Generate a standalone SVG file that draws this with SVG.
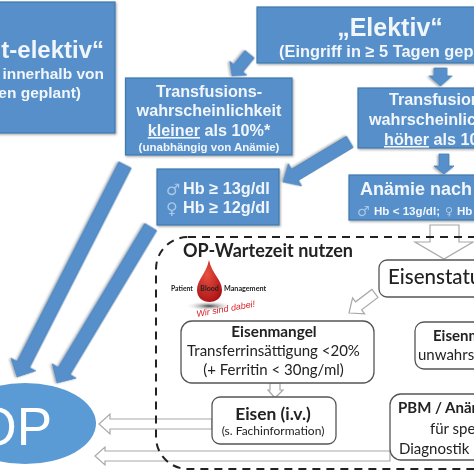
<svg xmlns="http://www.w3.org/2000/svg" width="474" height="474" viewBox="0 0 474 474">
<style>
.b{fill:#568fc9;stroke:#3f78ae;stroke-width:1.2;filter:url(#sh)}
.a{fill:#568fc9;stroke:#4a80b8;stroke-width:.8;filter:url(#sh)}
.w{fill:#fff;stroke:#a8a8a8;stroke-width:1.2}
.n{fill:#fff;stroke:#555;stroke-width:1.3}
.t{font-family:"Liberation Sans",Arial,sans-serif;font-weight:700;fill:#f0f6fb}
.s{font-family:"DejaVu Sans",sans-serif;font-weight:400;fill:#a9c8e6}
.k{font-family:Lato,"Liberation Sans",sans-serif;fill:#222}
.m{text-anchor:middle}
.bd{font-weight:700}
</style>
<defs>
<filter id="sh" x="-20%" y="-20%" width="140%" height="140%"><feDropShadow dx="1" dy="1.2" stdDeviation="1" flood-color="#000" flood-opacity=".35"/></filter>
<radialGradient id="dr" cx=".4" cy=".35" r=".75"><stop offset="0" stop-color="#e8503f"/><stop offset="1" stop-color="#a80f14"/></radialGradient>
<radialGradient id="sd"><stop offset="0" stop-color="#444"/><stop offset="1" stop-color="#fff" stop-opacity="0"/></radialGradient>
</defs>
<g style="filter:blur(.45px)">
<g id="connectors">
<polygon class="a" transform="translate(17,377) rotate(117)" points="0,0 -14,-14 -14,-7 -238,-7 -238,7 -14,7 -14,14"/>
<polygon class="a" transform="translate(57,383) rotate(121)" points="0,0 -14,-14 -14,-7 -182,-7 -182,7 -14,7 -14,14"/>
<polygon class="a" transform="translate(232,76) rotate(129)" points="0,0 -10,-11 -10,-6 -28,-6 -28,6 -10,6 -10,11"/>
<polygon class="a" transform="translate(440.5,86) rotate(90)" points="0,0 -10,-11.5 -10,-6.5 -18,-6.5 -18,6.5 -10,6.5 -10,11.5"/>
<polygon class="a" transform="translate(444,174) rotate(90)" points="0,0 -8,-10 -8,-5 -20,-5 -20,5 -8,5 -8,10"/>
<polygon class="a" transform="translate(283,182) rotate(149)" points="0,0 -14,-13 -14,-6.5 -78,-6.5 -78,6.5 -14,6.5 -14,13"/>
<polygon class="w" points="430,225 459,225 459,242 473,242 444,259 415,242 430,242"/>
<polygon class="w" transform="translate(349,313) rotate(143)" points="0,0 -12,-10 -12,-5 -32.500,-5 -32.500,5 -12,5 -12,10"/>
<polygon class="w" points="270,383 280,383 280,390 283,390 275,398 268,390 270,390"/>
<polygon class="w" points="212,419 110,419 110,414 99,424 110,434 110,429 212,429"/>
<polygon class="w" points="390,451 105,451 105,447 95,456 105,465 105,461 390,461"/>
</g>

<rect x="156" y="237" width="360" height="232" rx="32" fill="none" stroke="#222" stroke-width="2" stroke-dasharray="8 6"/>

<g id="node-notfall">
<rect class="b" x="-10" y="2" width="125" height="131"/>
<text class="t" x="104" y="58" font-size="24" text-anchor="end">t-elektiv“</text>
<text class="t" x="104" y="79" font-size="15.500" text-anchor="end">innerhalb von</text>
<text class="t" x="81" y="98" font-size="15.500" text-anchor="end">en geplant)</text>
</g>

<g id="node-elektiv">
<rect class="b" x="257" y="7" width="230" height="56"/>
<text class="t m" x="390" y="36" font-size="25">„Elektiv“</text>
<text class="t" x="279" y="57" font-size="16.400">(Eingriff in ≥ 5 Tagen gepl</text>
</g>

<g id="node-trans-klein">
<rect class="b" x="125.500" y="78" width="166.500" height="77"/>
<text class="t m" x="209" y="97" font-size="16.200">Transfusions-</text>
<text class="t m" x="209" y="116" font-size="16.200">wahrscheinlichkeit</text>
<text class="t m" x="209" y="136" font-size="16.200"><tspan text-decoration="underline">kleiner</tspan> als 10%*</text>
<text class="t m" x="209" y="151" font-size="11.500">(unabhängig von Anämie)</text>
</g>

<g id="node-trans-hoch">
<rect class="b" x="358" y="88" width="130" height="60"/>
<text class="t" x="389" y="105" font-size="16.200">Transfusion</text>
<text class="t" x="369" y="125" font-size="16.200">wahrscheinlich</text>
<text class="t" x="384" y="145" font-size="16.200"><tspan text-decoration="underline">höher</tspan> als 10</text>
</g>

<g id="node-hb">
<rect class="b" x="157" y="169" width="122" height="56"/>
<text class="s" x="166" y="195" font-size="16">♂</text>
<text class="t" x="183" y="194" font-size="16.300">Hb ≥ 13g/dl</text>
<text class="s" x="166" y="214" font-size="16">♀</text>
<text class="t" x="183" y="213" font-size="16.300">Hb ≥ 12g/dl</text>
</g>

<g id="node-anaemie">
<rect class="b" x="349" y="175" width="135" height="45"/>
<text class="t" x="360" y="195" font-size="18">Anämie nach</text>
<text class="s" x="357" y="216" font-size="14">♂</text>
<text class="t" x="374" y="215" font-size="11.600">Hb &lt; 13g/dl;</text>
<text class="s" x="445" y="215" font-size="11">♀</text>
<text class="t" x="457" y="215" font-size="11.600">Hb</text>
</g>

<g id="node-op">
<ellipse cx="25" cy="423.500" rx="71" ry="40.500" fill="#5b9bd5"/>
<text x="52" y="445" font-family="Liberation Sans,sans-serif" font-size="53" fill="#fff" text-anchor="end">OP</text>
</g>

<text class="k bd" x="183" y="257" font-size="18">OP-Wartezeit nutzen</text>

<g id="logo">
<ellipse cx="209" cy="306" rx="24" ry="5" fill="url(#sd)"/>
<path d="M209,260 C206,274 197,280 197,290 C197,298 203,302 209.500,302 C216,302 222,298 222,290 C222,280 212,274 209,260Z" fill="url(#dr)"/>
<text class="k bd" x="171" y="291" font-size="6.800" fill="#333">Patient</text>
<text class="k bd" x="209.500" y="291" font-size="7" fill="#fff" text-anchor="middle">Blood</text>
<text class="k bd" x="224" y="291" font-size="7.200" fill="#333">Management</text>
<text x="197" y="317" font-family="Liberation Sans,sans-serif" font-style="italic" font-size="9" fill="#d8232a" transform="rotate(-10 197 317)">Wir sind dabei!</text>
</g>

<g id="node-eisenstatus">
<rect class="n" x="379" y="260" width="120" height="37" rx="8"/>
<text class="k" x="388" y="284" font-size="20.500" font-weight="500">Eisenstatu</text>
</g>

<g id="node-eisenmangel">
<rect class="n" x="181" y="321" width="193" height="62" rx="11"/>
<text class="k bd m" x="274" y="337" font-size="15.300">Eisenmangel</text>
<text class="k m" x="273.500" y="356" font-size="15">Transferrinsättigung &lt;20%</text>
<text class="k m" x="273.500" y="375" font-size="15">(+ Ferritin &lt; 30ng/ml)</text>
</g>

<g id="node-eisen-iv">
<rect class="n" x="212" y="397" width="124" height="47" rx="8"/>
<text class="k bd m" x="273" y="420" font-size="17.400">Eisen (i.v.)</text>
<text class="k m" x="273" y="435" font-size="12">(s. Fachinformation)</text>
</g>

<g id="node-eisenmangel-unw">
<rect class="n" x="415" y="322" width="90" height="47" rx="9"/>
<text class="k bd" x="433" y="341" font-size="15">Eisenm</text>
<text class="k" x="418" y="360" font-size="15">unwahrs</text>
</g>

<g id="node-pbm">
<rect class="n" x="390" y="394" width="110" height="66" rx="11"/>
<text class="k bd" x="398" y="413" font-size="15">PBM / Anäm</text>
<text class="k" x="430" y="434" font-size="15">für spe</text>
<text class="k" x="399" y="454" font-size="15">Diagnostik /</text>
</g>
</g>
</svg>
